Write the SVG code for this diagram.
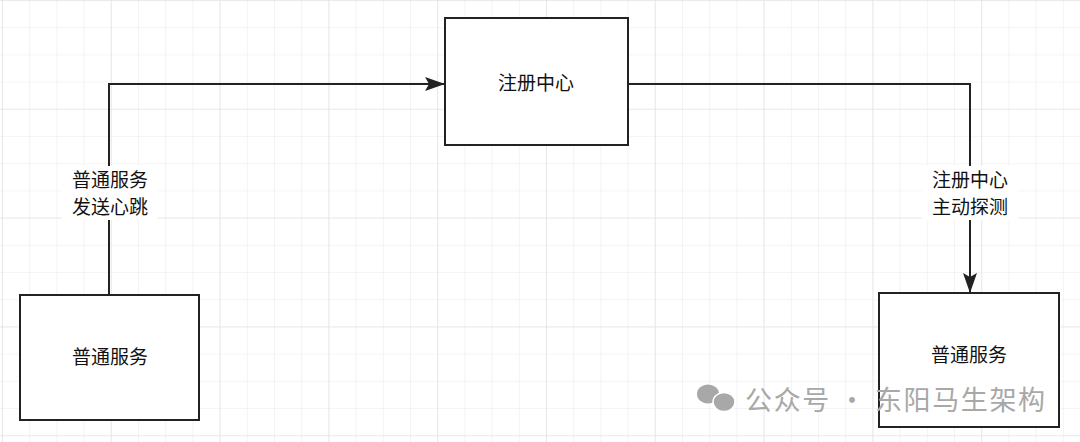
<svg xmlns="http://www.w3.org/2000/svg" width="1080" height="442" viewBox="0 0 1080 442">
<defs>
<pattern id="g" x="2" y="0" width="27.2" height="27.2" patternUnits="userSpaceOnUse"><path d="M0 0V27.2M0 0H27.2" stroke="#ebebeb" stroke-width="1.2" fill="none"/></pattern>
<pattern id="G" x="2" y="0" width="108.8" height="108.8" patternUnits="userSpaceOnUse"><path d="M0 0V108.8M0 0H108.8" stroke="#e0e0e0" stroke-width="1.2" fill="none"/></pattern>
<marker id="a" markerWidth="20" markerHeight="16" refX="19" refY="8" orient="auto" markerUnits="userSpaceOnUse"><path d="M0 1L20 8L0 15L4 8Z" fill="#222"/></marker>
<style>.n{fill:#fff;stroke:#222;stroke-width:2}.t{font-family:"Noto Sans CJK SC",sans-serif;font-size:19px;fill:#111;text-anchor:middle}.c{fill:none;stroke:#222;stroke-width:2}</style>
</defs>
<rect width="1080" height="442" fill="#fff"/>
<rect width="1080" height="442" fill="url(#g)"/>
<rect width="1080" height="442" fill="url(#G)"/>
<g id="connectors">
<path class="c" d="M109 295V84H444" marker-end="url(#a)"/>
<path class="c" d="M628 84H970V292" marker-end="url(#a)"/>
<rect x="62" y="166" width="96" height="54" fill="#fff"/>
<text class="t" x="110" y="187">普通服务</text><text class="t" x="110" y="214">发送心跳</text>
<rect x="922" y="166" width="96" height="54" fill="#fff"/>
<text class="t" x="970" y="187">注册中心</text><text class="t" x="970" y="214">主动探测</text>
</g>
<g id="center"><rect class="n" x="445" y="18" width="183" height="127"/><text class="t" x="536" y="90">注册中心</text></g>
<g id="left"><rect class="n" x="20" y="295" width="179" height="125"/><text class="t" x="110" y="364">普通服务</text></g>
<g id="right"><rect class="n" x="879" y="293" width="180" height="134"/><text class="t" x="969" y="362">普通服务</text></g>
<g id="watermark" fill="#a8a8a8">
<ellipse cx="708" cy="394" rx="11" ry="9.5"/><ellipse cx="724" cy="402" rx="11" ry="9.5" stroke="#fff" stroke-width="1.5"/>
<text x="745" y="410" font-family="Noto Sans CJK SC,sans-serif" font-size="27" textLength="300">公众号 · 东阳马生架构</text>
</g>
</svg>
